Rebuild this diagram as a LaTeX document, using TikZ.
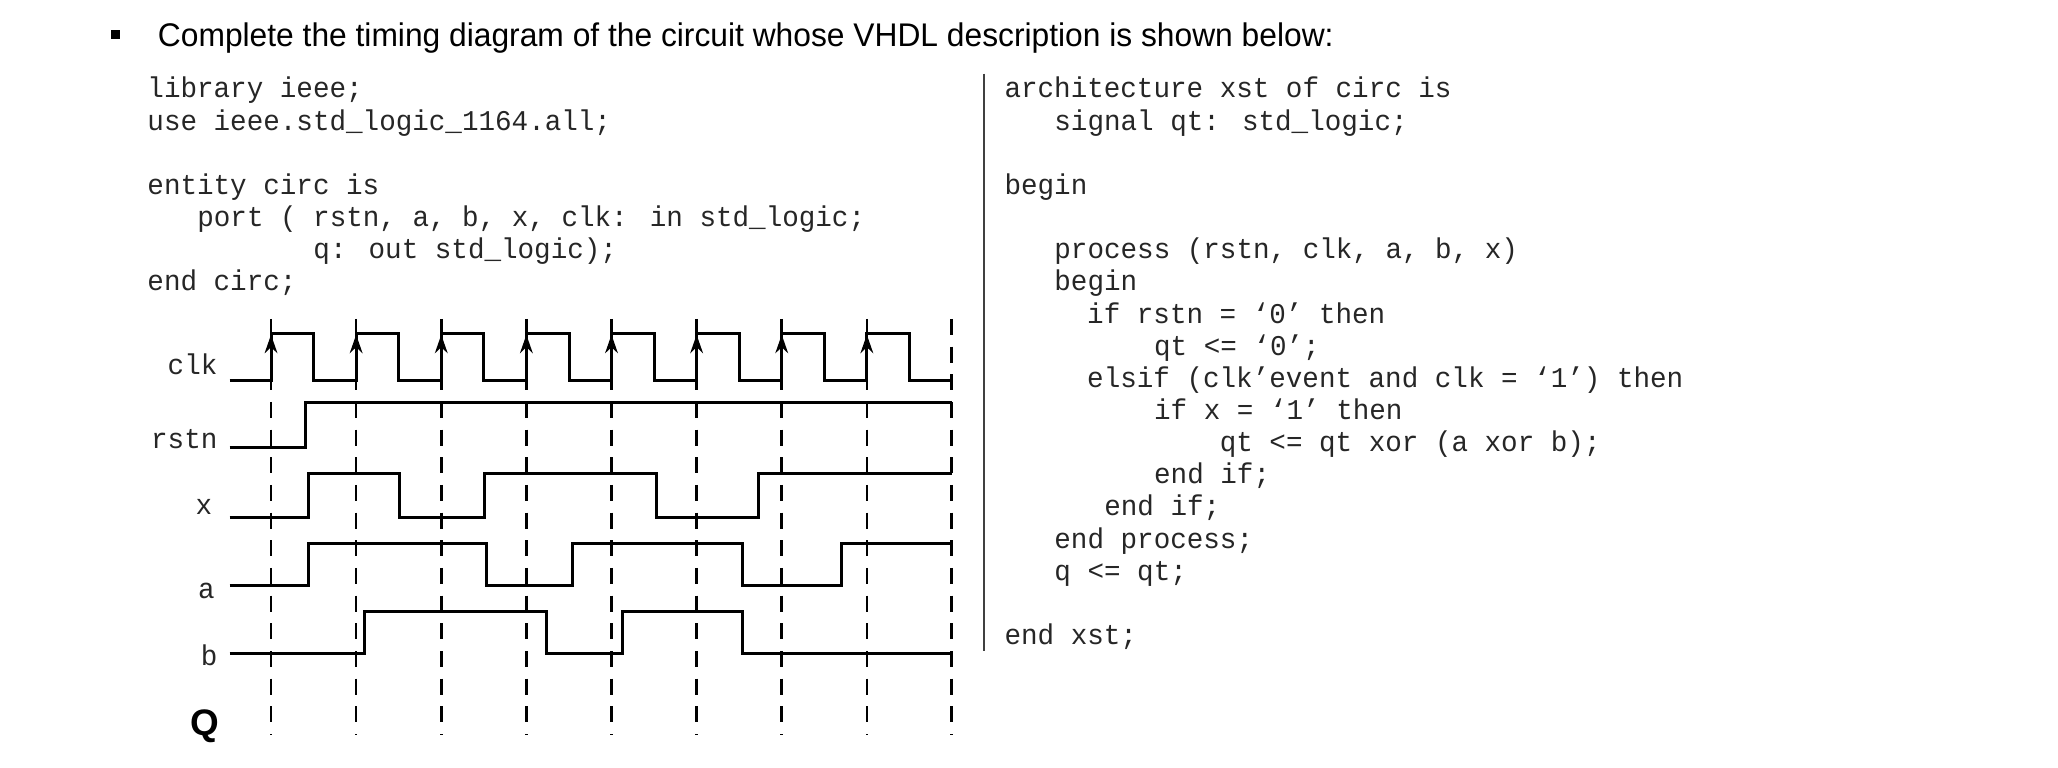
\documentclass[tikz,border=0pt]{standalone}
\usepackage{fontspec}
\setmainfont{Liberation Sans}
\newfontfamily\vhdlfont{Liberation Mono}
\usetikzlibrary{arrows.meta, positioning}

\newcommand{\vh}[1]{\scalebox{0.965}[1]{#1}}

\begin{document}
\begin{tikzpicture}[x=0.02cm, y=-0.02cm,
    vhdl/.style={font=\vhdlfont\fontsize{12.4}{14}\selectfont, text=black!85, anchor=base west, inner sep=0pt},
    siglabel/.style={font=\vhdlfont\fontsize{12.4}{14}\selectfont, text=black!85, anchor=base east, inner sep=0pt},
    wave/.style={line width=1.3pt, line join=miter},
    grid/.style={line width=1.1pt, dash pattern=on 7pt off 5pt},
    edgearrow/.style={line width=1.3pt, -{Stealth[length=8pt, width=5.5pt]}}]
    \useasboundingbox (0,0) rectangle (1568,585);
    % title line
    \fill (84.5,22.5) rectangle (91.5,29.5);
    \node[font=\fontsize{14.2}{16}\selectfont, anchor=base west, inner sep=0pt] (title) at (120,35.5)
        {\scalebox{0.97}[1]{Complete the timing diagram of the circuit whose VHDL description is shown below:}};
    % entity (left column)
    \node[vhdl] (l1) at (112,74.6) {\vh{library ieee;}};
    \node[vhdl] (l2) at (112,99.1) {\vh{use ieee.std\_logic\_1164.all;}};
    \node[vhdl] (l4) at (112,148.1) {\vh{entity circ is}};
    \node[vhdl] (l5) at (150,172.6) {\vh{port ( rstn, a, b, x, clk: in std\_logic;}};
    \node[vhdl] (l6) at (238.5,197.1) {\vh{q: out std\_logic);}};
    \node[vhdl] (l7) at (112,221.6) {\vh{end circ;}};
    % divider
    \draw[line width=0.9pt, black!75] (750,56) -- (750,496);
    % architecture (right column)
    \node[vhdl] (r0) at (765,74.6) {\vh{architecture xst of circ is}};
    \node[vhdl] (r1) at (803,99.1) {\vh{signal qt: std\_logic;}};
    \node[vhdl] (r3) at (765,148.1) {\vh{begin}};
    \node[vhdl] (r5) at (803,197.1) {\vh{process (rstn, clk, a, b, x)}};
    \node[vhdl] (r6) at (803,221.6) {\vh{begin}};
    \node[vhdl] (r7) at (828,246.1) {\vh{if rstn = ‘0’ then}};
    \node[vhdl] (r8) at (879,270.6) {\vh{qt <= ‘0’;}};
    \node[vhdl] (r9) at (828,295.1) {\vh{elsif (clk’event and clk = ‘1’) then}};
    \node[vhdl] (r10) at (879,319.6) {\vh{if x = ‘1’ then}};
    \node[vhdl] (r11) at (929,344.1) {\vh{qt <= qt xor (a xor b);}};
    \node[vhdl] (r12) at (879,368.6) {\vh{end if;}};
    \node[vhdl] (r13) at (841,393.1) {\vh{end if;}};
    \node[vhdl] (r14) at (803,417.6) {\vh{end process;}};
    \node[vhdl] (r15) at (803,442.1) {\vh{q <= qt;}};
    \node[vhdl] (r17) at (765,491.1) {\vh{end xst;}};
    % timing diagram
    \foreach \t in {206.5,271.4,336.2,401.1,465.9,530.8,595.6,660.5,725}
        \draw[grid] (\t,243) -- (\t,560);
    \node[siglabel] (clk) at (166,285) {\vh{clk}};
    \node[siglabel] (rstn) at (166,342) {\vh{rstn}};
    \node[siglabel] (x) at (162,392) {\vh{x}};
    \node[siglabel] (a) at (164,456) {\vh{a}};
    \node[siglabel] (b) at (166,507) {\vh{b}};
    \node[font=\bfseries\fontsize{16}{18}\selectfont, anchor=base, inner sep=0pt] (q) at (156,560) {Q};
    \draw[wave] (175,290) foreach \i in {0,...,7}{
        -- ({206.5+64.85*\i},290) -- ++(0,-36) -- ++(32.5,0) -- ++(0,36) } -- (725,290);
    \foreach \i in {0,...,7}
        \draw[edgearrow] ({206.5+64.85*\i},280) -- ({206.5+64.85*\i},255);
    \draw[wave] (175,341) -- (233,341) -- (233,307) -- (725,307);
    \draw[wave] (175,394) -- (235,394) -- (235,361) -- (304,361) -- (304,394) -- (369,394)
        -- (369,361) -- (500,361) -- (500,394) -- (578,394) -- (578,361) -- (725,361);
    \draw[wave] (175,446) -- (235,446) -- (235,414) -- (371,414) -- (371,446) -- (436,446)
        -- (436,414) -- (566,414) -- (566,446) -- (641,446) -- (641,414) -- (725,414);
    \draw[wave] (175,498) -- (278,498) -- (278,466) -- (416,466) -- (416,498) -- (474,498)
        -- (474,466) -- (566,466) -- (566,498) -- (725,498);
\end{tikzpicture}
\end{document}
